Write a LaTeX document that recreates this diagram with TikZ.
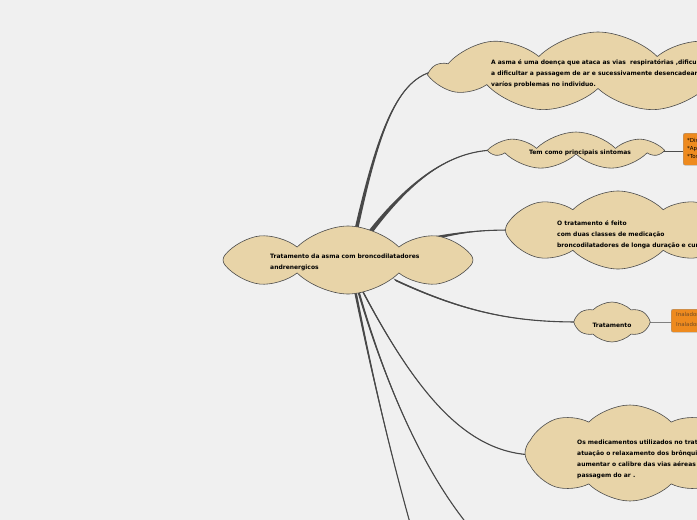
\documentclass[tikz,border=0pt]{standalone}
\usepackage{fontspec}
\setmainfont{DejaVu Sans}
\usetikzlibrary{shapes.symbols,calc}
\definecolor{bg}{HTML}{F0F0F0}
\definecolor{cl}{HTML}{E8D4A8}
\definecolor{org}{HTML}{EE8A1E}
\definecolor{br}{HTML}{484848}
\tikzset{
 cl/.style={cloud, cloud puffs=#1, cloud puff arc=90, cloud ignores aspect, fill=cl, draw=black!70, line width=0.6pt, inner sep=0pt},
 tx/.style={font=\bfseries\fontsize{6}{11}\selectfont, align=left, anchor=north west, inner sep=0pt},
 ob/.style={fill=org, draw=black!40, rounded corners=2pt, anchor=north west, inner sep=0pt},
}
\newcommand{\branch}[4]{\draw[br, line width=1.1pt] #1 .. controls #2 and #3 .. #4;
\fill[br] ($#1+(-1.6,-1.6)$) .. controls ($#2+(-0.8,-0.8)$) and #3 .. #4 .. controls #3 and ($#2+(0.8,0.8)$) .. ($#1+(1.6,1.6)$) -- cycle;}
\begin{document}
\begin{tikzpicture}[x=1pt,y=-1pt]
\useasboundingbox (0,0) rectangle (697,520);
\clip (0,0) rectangle (697,520);
\fill[bg] (0,0) rectangle (697,520);
% connectors
\coordinate (r1) at (354,240);\coordinate (e1) at (440,70);
\coordinate (r2) at (368,235);\coordinate (e2) at (497,150);
\coordinate (r3) at (425,240);\coordinate (e3) at (512,230);
\coordinate (r4) at (395,280);\coordinate (e4) at (579,322);
\coordinate (r5) at (362,290);\coordinate (e5) at (537,455);
\coordinate (r6) at (355,290);\coordinate (e6) at (412,530);
\coordinate (r7) at (358,290);\coordinate (e7) at (472,530);
\branch{(r1)}{(380,120)}{(400,75)}{(e1)}
\branch{(r2)}{(410,180)}{(450,150)}{(e2)}
\branch{(r3)}{(460,232)}{(480,230)}{(e3)}
\branch{(r4)}{(470,315)}{(520,322)}{(e4)}
\branch{(r5)}{(420,400)}{(470,455)}{(e5)}
\branch{(r6)}{(375,390)}{(395,470)}{(e6)}
\branch{(r7)}{(390,400)}{(430,480)}{(e7)}
% side lines
\draw[black!70, line width=0.7pt] (655,151) -- (684,151);
\draw[black!50, line width=1pt] (644,322) -- (672,322);
% clouds
\node[cl=8, minimum width=250, minimum height=68] (c0) at (348,260) {};
\node[tx] (t0) at (270,254) {Tratamento da asma com broncodilatadores\\andrenergicos};
\node[cl=9, minimum width=330, minimum height=80] (c1) at (598,72) {};
\node[tx] (t1) at (491,59) {A asma é uma doença que ataca as vias\ \ respiratórias ,dificultando\\a dificultar a passagem de ar e sucessivamente desencadeando\\varíos problemas no individuo.};
\node[cl=7, minimum width=165, minimum height=38] (c2) at (576,151) {};
\node[font=\bfseries\fontsize{6}{8}\selectfont, inner sep=0pt] (t2) at (580,153) {Tem como principais sintomas};
\node[cl=8, minimum width=225, minimum height=78] (c3) at (618,230) {};
\node[tx] (t3) at (557,220) {O tratamento é feito\\com duas classes de medicação\\broncodilatadores de longa duração e curta};
\node[cl=6, minimum width=72, minimum height=40] (c4) at (612,322) {};
\node[font=\bfseries\fontsize{6}{8}\selectfont, inner sep=0pt] (t4) at (612,325) {Tratamento};
\node[cl=8, minimum width=210, minimum height=96] (c5) at (630,453) {};
\node[tx] (t5) at (577,440) {Os medicamentos utilizados no tratamento\\atuação o relaxamento dos brônquios\\aumentar o calibre das vias aéreas\\passagem do ar .};
% orange boxes
\node[ob, minimum width=30, minimum height=32] (o1) at (683,133) {};
\node[font=\fontsize{5.5}{8}\selectfont, align=left, anchor=north west, inner sep=0pt] at (687,138) {*Dispneia\\*Aperto\\*Tosse};
\node[ob, minimum width=40, minimum height=23] (o2) at (671,309) {};
\node[font=\fontsize{5.5}{10}\selectfont, align=left, anchor=north west, inner sep=0pt, text=brown!60!black] at (676,312) {Inaladores\\Inaladores};
\end{tikzpicture}
\end{document}
